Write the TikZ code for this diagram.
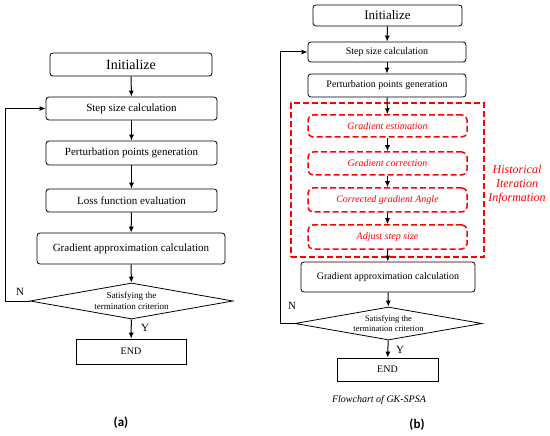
\documentclass[tikz,border=0pt]{standalone}
\usepackage{fontspec}
\setmainfont{Liberation Serif}
\newfontfamily\capfont{Carlito}
\usetikzlibrary{arrows.meta,shapes.geometric}

\begin{document}
\begin{tikzpicture}[x=1pt, y=-1pt,
    >={Latex[length=6pt,width=5pt]},
    stepbox/.style={draw, rounded corners=3pt, line width=0.8pt, inner sep=0pt},
    endbox/.style={draw, line width=0.8pt, inner sep=0pt, font=\fontsize{10}{12}\selectfont},
    cond/.style={draw, diamond, aspect=5.5, line width=0.8pt, inner sep=0pt, align=center, font=\fontsize{9}{11}\selectfont},
    hist/.style={draw=red, dash pattern=on 6pt off 3pt, line width=1.5pt, rounded corners=5pt, inner sep=0pt, text=red, font=\fontsize{10}{12}\selectfont\itshape},
    lfont/.style={font=\fontsize{11}{13}\selectfont},
    rfont/.style={font=\fontsize{10}{12}\selectfont},
    yn/.style={font=\fontsize{11}{12}\selectfont},
    line/.style={line width=1pt}]
    \useasboundingbox (0,0) rectangle (550,436);

            % (a)
            \node[stepbox, font=\fontsize{14}{16}\selectfont, minimum width=162, minimum height=23] (A) at (131,64.5) {Initialize};
            \node[stepbox, lfont, minimum width=171, minimum height=23] (B) at (131.5,108.5) {Step size calculation};
            \node[stepbox, lfont, minimum width=171, minimum height=24] (C) at (131.5,153) {Perturbation points generation};
            \node[stepbox, lfont, minimum width=171, minimum height=23] (D) at (131.5,200.5) {Loss function evaluation};
            \node[stepbox, lfont, minimum width=188, minimum height=31] (E) at (131,248.5) {Gradient approximation calculation};
            \node[cond, minimum width=203, minimum height=36] (F) at (131.5,301) {Satisfying the\\termination criterion};
            \node[endbox, minimum width=110, minimum height=25] (G) at (131,351.5) {END};
            \node[yn] (N1) at (20,292) {N};
            \node[yn] (Y1) at (145,328) {Y};
            \node[font=\capfont\bfseries\fontsize{13}{15}\selectfont] (capA) at (121,423) {(a)};

            \draw[line, ->] (A) -- (B);
            \draw[line, ->] (B) -- (C);
            \draw[line, ->] (C) -- (D);
            \draw[line, ->] (D) -- (E);
            \draw[line, ->] (E) -- (F);
            \draw[line, ->] (F) -- (G);
            \draw[line, ->] (F.west) -- ++(-24,0) |- (B.west);

            % (b)
            \node[stepbox, font=\fontsize{13}{15}\selectfont, minimum width=149, minimum height=21] (H) at (387.5,15.5) {Initialize};
            \node[stepbox, rfont, minimum width=158, minimum height=20] (I) at (387,52) {Step size calculation};
            \node[stepbox, rfont, minimum width=158, minimum height=23] (J) at (387,85.5) {Perturbation points generation};
            \node[draw=red, dash pattern=on 6pt off 3pt, line width=1.5pt, minimum width=193, minimum height=154] (HII) at (387.5,180) {};
            \node[hist, minimum width=159, minimum height=22] (K) at (387.5,126) {Gradient estimation};
            \node[hist, minimum width=159, minimum height=23] (L) at (387.5,163.5) {Gradient correction};
            \node[hist, minimum width=159, minimum height=24] (M) at (387.5,200) {Corrected gradient Angle};
            \node[hist, minimum width=159, minimum height=24] (O) at (387.5,237) {Adjust step size};
            \node[text=red, align=center, font=\fontsize{12}{14}\selectfont\itshape] (HIItext) at (517,185) {Historical\\Iteration\\Information};
            \node[stepbox, rfont, minimum width=174, minimum height=30] (P) at (388,277) {Gradient approximation calculation};
            \node[cond, font=\fontsize{8.5}{10.5}\selectfont, minimum width=187, minimum height=33] (Q) at (388.5,323.5) {Satisfying the\\termination criterion};
            \node[endbox, minimum width=101, minimum height=23] (R) at (387.5,369.5) {END};
            \node[yn] (N2) at (292,306) {N};
            \node[yn] (Y2) at (400,350) {Y};
            \node[font=\fontsize{10}{12}\selectfont\itshape] (flow) at (379,400) {Flowchart of GK-SPSA};
            \node[font=\capfont\bfseries\fontsize{13}{15}\selectfont] (capB) at (417,425) {(b)};

            \draw[line, ->] (H) -- (I);
            \draw[line, ->] (I) -- (J);
            \draw[line, ->] (J) -- (K);
            \draw[line, ->] (K) -- (L);
            \draw[line, ->] (L) -- (M);
            \draw[line, ->] (M) -- (O);
            \draw[line, ->] (O) -- (P);
            \draw[line, ->] (P) -- (Q);
            \draw[line, ->] (Q) -- (R);
            \draw[line, ->] (Q.west) -- ++(-14,0) |- (I.west);
        \end{tikzpicture}
\end{document}
